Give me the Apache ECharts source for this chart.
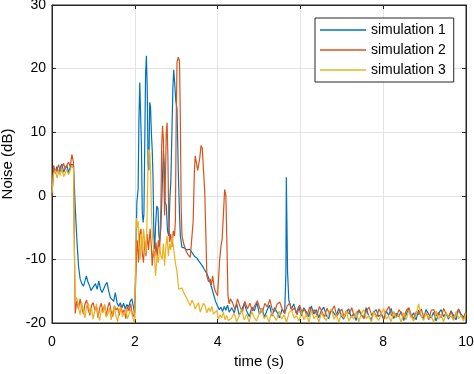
<!DOCTYPE html>
<html><head><meta charset="utf-8">
<script src="https://cdn.jsdelivr.net/npm/echarts@6/dist/echarts.min.js"></script>
<style>html,body{margin:0;padding:0;background:#fff}#c{width:474px;height:374px}</style>
</head><body><div id="c"></div>
<script>
const seriesNames = ['simulation 1', 'simulation 2', 'simulation 3'];
const xTicks = [0, 2, 4, 6, 8, 10];
const yTicks = [-20, -10, 0, 10, 20, 30];

// simulation 1 (blue)
const blueStart = [0.5,4.2,3.8,4.6,3.5,4.4,5.0,3.7,4.3,4.8,3.6,4.5,5.0,4.6]; // t 0..0.52
const blueDrop = [[0.56,-1.6],[0.60,-6.8],[0.64,-11.0],[0.68,-13.1],[0.72,-13.8],[0.76,-14.2],[0.80,-13.3],[0.83,-12.6],[0.87,-13.6],[0.91,-14.2],[0.94,-14.9],[0.97,-14.7],[1.01,-14.2],[1.05,-13.8],[1.09,-14.7],[1.13,-13.4],[1.17,-14.6],[1.21,-15.2],[1.25,-14.6],[1.29,-14.0],[1.33,-13.6],[1.37,-15.0],[1.41,-16.0],[1.45,-15.7],[1.49,-16.6],[1.53,-15.2],[1.57,-16.8],[1.61,-17.4],[1.65,-16.8],[1.69,-17.6],[1.73,-16.9],[1.77,-17.8],[1.81,-17.1],[1.85,-17.5],[1.89,-16.6],[1.93,-16.2],[1.97,-17.6],[2.00,-18.4]];
const blueBurst = [[2.03,-8],[2.05,-1.0],[2.08,1.0],[2.10,12],[2.12,17.8],[2.14,17.5],[2.16,8],[2.18,-2.5],[2.20,-4.2],[2.22,-3],[2.24,8],[2.26,19],[2.28,22.0],[2.30,17],[2.32,5],[2.34,4],[2.36,14.7],[2.38,14.0],[2.40,10],[2.42,7.3],[2.44,3],[2.46,-6],[2.48,-8.4],[2.50,-5],[2.53,-1.6],[2.56,-2],[2.58,-6],[2.60,-7.3],[2.63,-5],[2.66,1],[2.69,7.0],[2.71,5],[2.73,-1],[2.76,-1.5],[2.79,-5.5],[2.82,-6.3],[2.85,0],[2.87,2.1],[2.89,8],[2.92,17],[2.94,19.8],[2.96,18],[2.99,15],[3.02,13.6],[3.05,4],[3.08,-3],[3.10,-6.3],[3.14,-8.1],[3.20,-8.2],[3.26,-8.5],[3.32,-8.4],[3.38,-8.9],[3.44,-9.5],[3.50,-9.8],[3.56,-10.4],[3.62,-10.9],[3.68,-11.6],[3.74,-12.2],[3.80,-13.2],[3.85,-14.3],[3.90,-15.4],[3.95,-16.6],[3.99,-17.2],[4.04,-17.9],[4.08,-17.5],[4.12,-18.2],[4.16,-17.4],[4.20,-18.0],[4.24,-17.2],[4.28,-18.3]];
const blueTailA = [-17.6,-18.4,-17.0,-18.8,-17.9,-16.9,-18.2,-19.0,-17.5,-18.1,-16.8,-18.6,-17.7,-19.1,-18.0,-17.2,-18.9,-17.6,-18.3,-19.2,-17.8,-18.5]; // t 4.34..5.62
const blueSpike = [[5.65,-12],[5.66,2.9],[5.68,2.9],[5.69,-12]];
const blueTailB = [-16.4,-17.8,-17.0,-18.5,-17.4,-18.9,-17.6,-18.2,-19.0,-17.3,-18.6,-17.9,-19.2,-18.1,-17.5,-18.8,-19.3,-17.9,-18.4,-19.0,-17.7,-18.9,-19.4,-18.2,-17.8,-19.1,-18.5,-19.6,-18.0,-18.7,-19.2,-17.6,-18.9,-19.5,-18.3,-17.9,-19.0,-18.6,-19.4,-18.1,-18.8,-17.7,-19.3,-18.5,-19.0,-18.2,-19.6,-18.7,-17.8,-19.1,-18.4,-19.5,-18.0,-18.9,-19.3,-17.9,-18.6,-19.2,-18.3,-19.7,-18.5,-17.9,-19.0,-18.4,-19.4,-18.1,-18.8,-19.5,-17.8,-18.6,-19.1,-18.3]; // t 5.72..10

// simulation 2 (orange)
const orangeStart = [0.0,4.8,3.5,4.2,4.9,3.8,4.4,5.1,4.2,4.8,5.3,4.6,6.5,5.2]; // t 0..0.52
const orangeDrop = [[0.54,-8],[0.56,-18.5]];
const orangeLow = [-16.5,-17.8,-16.2,-17.5,-18.6,-17.0,-16.4,-17.9,-18.8,-17.2,-16.8,-18.0,-17.4,-19.2,-17.6,-16.9,-18.3,-17.1,-18.9,-17.5,-16.7,-18.2,-19.0,-17.3,-18.0,-17.6,-18.8,-17.2,-18.5,-17.9,-19.3,-17.4,-18.1,-17.0,-18.6,-19.0]; // t 0.60..1.98
const orangeBurst = [[2.00,-19.0],[2.02,-14],[2.04,-9],[2.06,-7],[2.09,-10.5],[2.12,-6],[2.15,-5.2],[2.18,-9],[2.21,-10.5],[2.24,-7],[2.27,-9.5],[2.30,-6],[2.33,-8.5],[2.37,-5.2],[2.40,-8],[2.42,-11],[2.45,-8.5],[2.48,-9.8],[2.51,-7.3],[2.54,-9.5],[2.57,-7],[2.60,-8.5],[2.63,-2],[2.65,8],[2.67,11],[2.69,9],[2.71,0],[2.72,-3.1],[2.74,3],[2.76,10],[2.78,11.5],[2.80,6],[2.82,-4],[2.84,-7.3],[2.87,-6],[2.90,-8],[2.93,-5.5],[2.96,-6.3],[2.98,-4],[3.00,12],[3.02,21.0],[3.05,21.8],[3.08,21.2],[3.10,12],[3.12,-2],[3.14,-6.3],[3.18,-7.5],[3.22,-8.4],[3.28,-9.2],[3.34,-9.7],[3.38,-10],[3.41,-4],[3.44,4],[3.46,6.3],[3.49,6.0],[3.52,4.0],[3.54,3.7],[3.57,6],[3.60,7.9],[3.63,7.5],[3.66,4],[3.69,0.5],[3.72,-7],[3.74,-12.6],[3.78,-13.5],[3.82,-13.1],[3.85,-14],[3.88,-12.6],[3.92,-14.5],[3.96,-15.2],[4.00,-15.7],[4.02,-15.5],[4.05,-10],[4.08,-8],[4.11,-6.8],[4.14,-3],[4.17,1.0],[4.20,0],[4.22,-6],[4.25,-15.7],[4.28,-17.0],[4.31,-16.2]];
const orangeTail = [-16.8,-17.9,-16.2,-17.4,-18.3,-16.6,-17.8,-16.9,-18.1,-17.2,-16.5,-17.7,-18.4,-16.9,-17.5,-16.3,-17.9,-18.2,-17.0,-16.7,-17.8,-18.5,-17.3,-16.9,-18.0,-17.6,-18.7,-17.2,-18.3,-17.8,-19.0,-17.5,-18.4,-17.9,-18.8,-17.4,-18.2,-19.1,-17.7,-18.5,-18.0,-17.3,-18.9,-18.3,-17.8,-19.2,-18.1,-18.6,-17.6,-19.0,-18.4,-17.9,-18.7,-19.3,-18.0,-17.5,-18.8,-18.2,-19.1,-17.8,-18.6,-19.4,-18.1,-17.4,-18.9,-18.3,-19.0,-17.9,-18.5,-19.2,-18.0,-17.6,-18.8,-19.3,-18.2,-18.7,-17.8,-19.1,-18.4,-19.5,-18.0,-17.9,-18.9,-18.3,-19.2,-17.7,-18.6,-19.0,-18.1,-19.4,-18.5,-17.9,-18.8,-19.3,-18.2]; // t 4.36..10

// simulation 3 (yellow)
const yellowStart = [0.5,3.5,4.0,2.8,3.9,3.2,4.3,3.0,3.6,4.1,3.3,4.0,4.8,4.2]; // t 0..0.52
const yellowDrop = [[0.54,-8],[0.56,-16.5]];
const yellowLow = [-16.0,-17.5,-18.7,-16.8,-18.0,-19.2,-17.4,-16.9,-18.5,-17.7,-19.4,-18.1,-17.0,-18.8,-19.6,-17.9,-18.4,-17.2,-19.1,-18.6,-17.6,-19.5,-18.2,-17.4,-18.9,-19.8,-18.0,-17.5,-19.0,-18.4,-17.8,-19.3,-18.6,-17.9,-18.8,-19.9]; // t 0.60..1.98
const yellowBurst = [[2.00,-19.5],[2.02,-10],[2.04,-3.5],[2.06,-5],[2.08,-4],[2.10,-8],[2.13,-10],[2.16,-6],[2.19,-8.5],[2.21,-5.2],[2.24,-7],[2.26,-9],[2.28,-8.4],[2.30,-2],[2.32,5],[2.33,7.3],[2.36,6.8],[2.38,4],[2.40,-2],[2.42,-5.8],[2.45,-8],[2.48,-10],[2.50,-12.6],[2.52,-11],[2.54,-9.4],[2.57,-10.5],[2.60,-8],[2.63,-9.5],[2.66,-10],[2.69,-7.5],[2.72,-11],[2.75,-8],[2.78,-6.3],[2.81,-9.5],[2.84,-7.5],[2.87,-8.5],[2.90,-6.3],[2.94,-8.4],[2.98,-10.5],[3.02,-12],[3.06,-14.7],[3.10,-15.0],[3.14,-14.5],[3.18,-15.2],[3.22,-15.7],[3.26,-16.2],[3.30,-16.0],[3.34,-17.3],[3.38,-16.4],[3.42,-16.9],[3.46,-17.8],[3.50,-17.3],[3.54,-16.8],[3.58,-18.3],[3.62,-17.5],[3.66,-16.9],[3.70,-17.3],[3.74,-18.4],[3.78,-17.6],[3.82,-18.2],[3.86,-17.4],[3.90,-18.6],[3.94,-18.9],[3.98,-18.0],[4.02,-19.4],[4.06,-18.7],[4.10,-19.2],[4.14,-18.3],[4.18,-19.5],[4.22,-18.8],[4.26,-19.6],[4.30,-19.9]];
const yellowTail = [-19.2,-18.4,-19.8,-18.9,-17.9,-19.5,-18.6,-19.9,-18.2,-19.1,-19.7,-18.5,-17.8,-19.3,-18.8,-19.9,-18.3,-19.0,-19.6,-18.1,-19.4,-18.7,-19.9,-18.4,-17.9,-19.2,-18.9,-19.7,-18.2,-19.5,-18.6,-19.9,-18.0,-19.3,-18.8,-19.8,-18.4,-19.1,-19.6,-18.3,-17.8,-19.4,-18.7,-19.9,-18.5,-19.2,-18.1,-19.7,-18.9,-19.4,-18.2,-19.8,-18.6,-17.9,-19.3,-18.8,-19.9,-18.3,-19.1,-19.6,-18.5,-17.7,-19.4,-18.9,-19.8,-18.2,-19.2,-18.7,-19.9,-18.4,-19.5,-18.0,-19.0,-19.7,-18.6,-17.0,-18.9,-19.6,-18.3,-19.2,-18.8,-19.9,-18.1,-19.4,-18.7,-19.8,-18.4,-19.1,-18.9,-19.6,-18.2,-19.3,-18.8,-19.7,-18.5]; // t 4.34..10

function onGrid(t0, t1, vals) {
  const n = vals.length;
  return vals.map((v, i) => [t0 + (t1 - t0) * i / (n - 1), v]);
}

const s1 = [].concat(onGrid(0, 0.52, blueStart), blueDrop, blueBurst, onGrid(4.34, 5.62, blueTailA), blueSpike, onGrid(5.72, 10, blueTailB));
const s2 = [].concat(onGrid(0, 0.52, orangeStart), orangeDrop, onGrid(0.60, 1.98, orangeLow), orangeBurst, onGrid(4.36, 10, orangeTail));
const s3 = [].concat(onGrid(0, 0.52, yellowStart), yellowDrop, onGrid(0.60, 1.98, yellowLow), yellowBurst, onGrid(4.34, 10, yellowTail));

const colors = ['#0072BD', '#D95319', '#EDB120'];
const font = 'Liberation Sans, Arial, Helvetica, sans-serif';
const axisCol = '#262626';

const chart = echarts.init(document.getElementById('c'), null, {renderer: 'canvas'});
const xMin = xTicks[0], xMax = xTicks[xTicks.length - 1];
const yMin = yTicks[0], yMax = yTicks[yTicks.length - 1];
const baseX = {type: 'value', min: xMin, max: xMax, interval: xTicks[1] - xTicks[0]};
const baseY = {type: 'value', min: yMin, max: yMax, interval: yTicks[1] - yTicks[0]};
const tick = {show: true, inside: true, length: 4, lineStyle: {color: axisCol}};
const line = {show: true, onZero: false, lineStyle: {color: axisCol}};

chart.setOption({
  animation: false,
  color: colors,
  grid: {left: 52, right: 8, top: 5, bottom: 51, show: true, borderColor: axisCol, borderWidth: 1,
         backgroundColor: '#fff', containLabel: false, outerBoundsMode: 'none'},
  xAxis: [
    Object.assign({}, baseX, {
      position: 'bottom',
      name: 'time (s)', nameLocation: 'middle', nameGap: 25,
      nameTextStyle: {color: '#000', fontSize: 15, fontFamily: font},
      axisLine: line, axisTick: tick,
      axisLabel: {color: '#000', fontSize: 14, fontFamily: font, margin: 12},
      splitLine: {show: true, lineStyle: {color: '#e3e3e3', width: 1}}
    }),
    Object.assign({}, baseX, {
      position: 'top',
      axisLine: line, axisTick: tick,
      axisLabel: {show: false}, splitLine: {show: false}
    })
  ],
  yAxis: [
    Object.assign({}, baseY, {
      position: 'left',
      name: 'Noise (dB)', nameLocation: 'middle', nameGap: 36, nameRotate: 90,
      nameTextStyle: {color: '#000', fontSize: 15, fontFamily: font},
      axisLine: line, axisTick: tick,
      axisLabel: {color: '#000', fontSize: 14, fontFamily: font, margin: 6},
      splitLine: {show: true, lineStyle: {color: '#e3e3e3', width: 1}}
    }),
    Object.assign({}, baseY, {
      position: 'right',
      axisLine: line, axisTick: tick,
      axisLabel: {show: false}, splitLine: {show: false}
    })
  ],
  legend: {
    orient: 'vertical', left: 315, top: 18,
    padding: [4, 8, 4, 5], itemGap: 4, itemWidth: 46, itemHeight: 1.5,
    icon: 'rect',
    borderColor: axisCol, borderWidth: 1, borderRadius: 0, backgroundColor: '#fff',
    textStyle: {color: '#000', fontSize: 14, fontFamily: font, lineHeight: 16},
    data: seriesNames
  },
  series: [s1, s2, s3].map((d, i) => ({
    name: seriesNames[i], type: 'line', data: d, xAxisIndex: 0, yAxisIndex: 0,
    showSymbol: false, symbol: 'none', clip: true,
    lineStyle: {width: 1.2, color: colors[i]}, itemStyle: {color: colors[i]}, z: 2 + i
  }))
});
</script></body></html>
